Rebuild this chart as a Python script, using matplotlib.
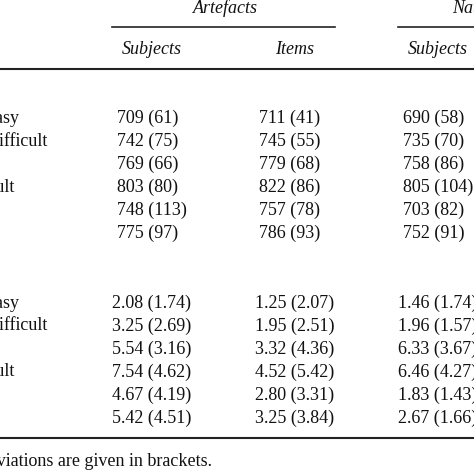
import matplotlib
matplotlib.use("Agg")
import matplotlib.pyplot as plt

groups = ["Artefacts", "Natural"]
subheads = ["Subjects", "Items", "Subjects"]
row_labels = ["Easy", "Difficult", "", "Difficult", "", ""]
rt_subj = ["709 (61)", "742 (75)", "769 (66)", "803 (80)", "748 (113)", "775 (97)"]
rt_items = ["711 (41)", "745 (55)", "779 (68)", "822 (86)", "757 (78)", "786 (93)"]
rt_nat = ["690 (58)", "735 (70)", "758 (86)", "805 (104)", "703 (82)", "752 (91)"]
er_subj = ["2.08 (1.74)", "3.25 (2.69)", "5.54 (3.16)", "7.54 (4.62)", "4.67 (4.19)", "5.42 (4.51)"]
er_items = ["1.25 (2.07)", "1.95 (2.51)", "3.32 (4.36)", "4.52 (5.42)", "2.80 (3.31)", "3.25 (3.84)"]
er_nat = ["1.46 (1.74)", "1.96 (1.57)", "6.33 (3.67)", "6.46 (4.27)", "1.83 (1.43)", "2.67 (1.66)"]
footnote = "Standard deviations are given in brackets."

fig = plt.figure(figsize=(4.74, 4.74), dpi=100)
ax = fig.add_axes([0, 0, 1, 1])
ax.set_xlim(0, 474); ax.set_ylim(474, 0); ax.axis("off")
F = dict(family="Liberation Serif", fontsize=13, color="#111111")
FI = dict(F, style="italic")

ax.text(225, 8, groups[0], ha="center", va="center", **FI)
ax.text(452, 8, groups[1], ha="left", va="center", **FI)
ax.plot([112, 335], [27, 27], color="#222", lw=1.2)
ax.plot([398, 474], [27, 27], color="#222", lw=1.2)
for x, s in zip([152, 295, 438], subheads):
    ax.text(x, 49, s, ha="center", va="center", **FI)
ax.plot([0, 474], [69, 69], color="#222", lw=1.5)

lab_right = [20, 48, 0, 15, 0, 0]
for i in range(6):
    y1 = 118 + 23 * i
    y2 = 303 + 23 * i
    if row_labels[i]:
        for y in (y1, y2):
            ax.text(lab_right[i], y, row_labels[i], ha="right", va="center", **F)
    ax.text(117, y1, rt_subj[i], ha="left", va="center", **F)
    ax.text(259, y1, rt_items[i], ha="left", va="center", **F)
    ax.text(403, y1, rt_nat[i], ha="left", va="center", **F)
    ax.text(112, y2, er_subj[i], ha="left", va="center", **F)
    ax.text(255, y2, er_items[i], ha="left", va="center", **F)
    ax.text(398, y2, er_nat[i], ha="left", va="center", **F)

ax.plot([0, 474], [438, 438], color="#222", lw=1.5)
ax.text(212, 462, footnote, ha="right", va="center", **F)
fig.savefig("out.png", dpi=100)
